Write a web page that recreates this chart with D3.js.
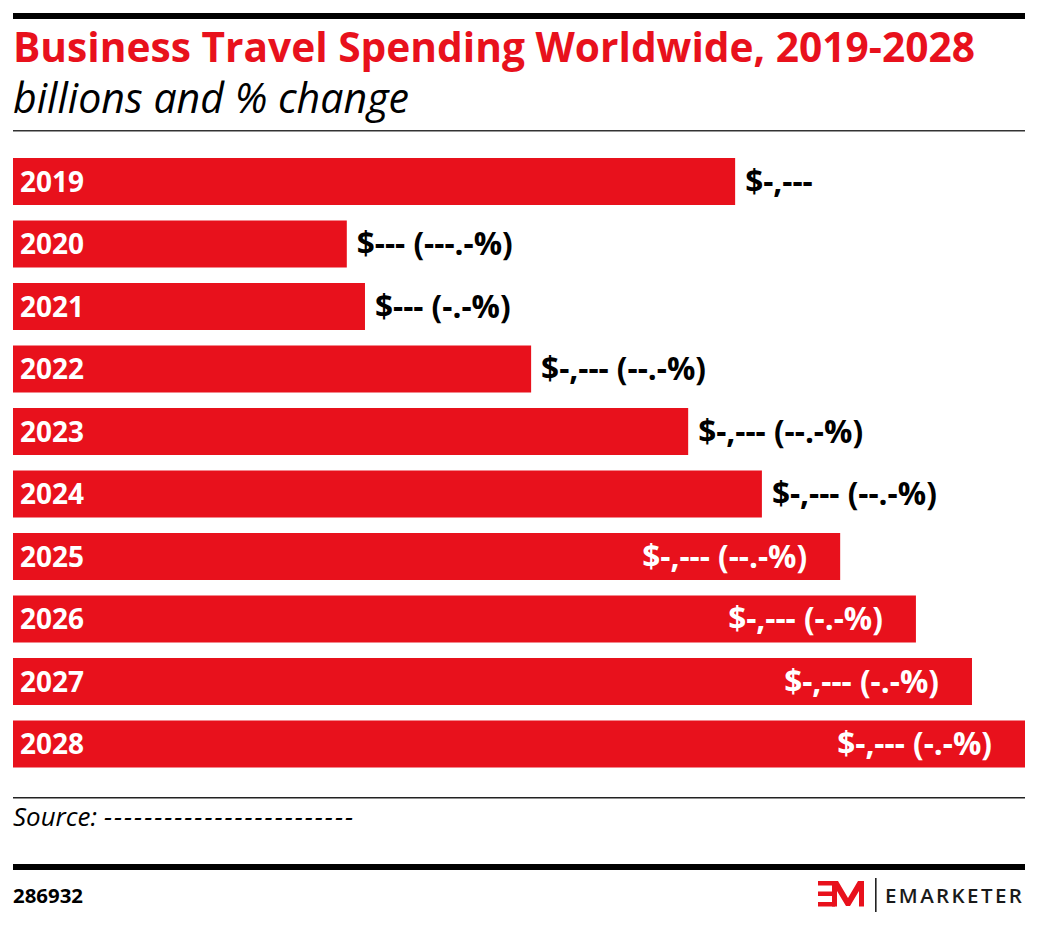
<!DOCTYPE html>
<html><head><meta charset="utf-8">
<script src="https://cdn.jsdelivr.net/npm/d3@7/dist/d3.min.js"></script>
<style>
html,body{margin:0;padding:0;background:#fff;}
svg{display:block;}
text{font-family:"Open Sans",Lato,sans-serif;}
</style></head>
<body><div id="chart"></div>
<script>
const years = ["2019","2020","2021","2022","2023","2024","2025","2026","2027","2028"];
const values = [1430, 661, 697, 1026, 1337, 1483, 1638, 1788, 1899, 2004];
const valueLabels = ["$-,---","$--- (---.-%)","$--- (-.-%)","$-,--- (--.-%)","$-,--- (--.-%)","$-,--- (--.-%)","$-,--- (--.-%)","$-,--- (-.-%)","$-,--- (-.-%)","$-,--- (-.-%)"];
const insideFlags = [false,false,false,false,false,false,true,true,true,true];

const W = 1038, H = 925;
const red = "#e8111c";
const svg = d3.select("#chart").append("svg").attr("width", W).attr("height", H);

function fit(sel, target){
  const w = sel.node().getComputedTextLength();
  const fs = parseFloat(sel.style("font-size"));
  sel.style("font-size", (fs*target/w).toFixed(2)+"px");
  return fs*target/w;
}

svg.append("rect").attr("x",13).attr("y",13).attr("width",1012).attr("height",6).attr("fill","#000");
const title = svg.append("text").attr("x",13).attr("y",61.5).attr("fill",red)
  .style("font-size","36px").style("font-weight","700").text("Business Travel Spending Worldwide, 2019-2028");
fit(title, 962);
const sub = svg.append("text").attr("x",13).attr("y",113).attr("fill","#000")
  .style("font-size","34px").style("font-style","italic").style("font-weight","400").text("billions and % change");
fit(sub, 396);
svg.append("rect").attr("x",13).attr("y",130).attr("width",1012).attr("height",1.5).attr("fill","#333");

const x = d3.scaleLinear().domain([0, d3.max(values)]).range([13, 1025]);
const y = d3.scaleBand().domain(years).range([158, 767.5]).paddingInner(0.248).paddingOuter(0);

const probe = svg.append("text").style("font-size","25px").style("font-weight","700").text(valueLabels[1]);
const labFs = 25*156/probe.node().getComputedTextLength();
probe.remove();
const probe2 = svg.append("text").style("font-size","25px").style("font-weight","700").text("2019");
const yrFs = 25*64/probe2.node().getComputedTextLength();
probe2.remove();

const rows = svg.append("g").selectAll("g.row")
  .data(years.map((yr,i)=>({yr, v:values[i], lab:valueLabels[i], inside:insideFlags[i]})))
  .join("g").attr("class","row");
rows.append("rect").attr("x",x(0)).attr("y",d=>y(d.yr)).attr("width",d=>x(d.v)-x(0)).attr("height",y.bandwidth()).attr("fill",red);
rows.append("text").attr("x",20).attr("y",d=>y(d.yr)+y.bandwidth()/2+yrFs*0.36)
  .attr("fill","#fff").style("font-size",yrFs+"px").style("font-weight","700").text(d=>d.yr);
rows.append("text")
  .attr("x",d=>d.inside ? x(d.v)-33 : x(d.v)+10)
  .attr("text-anchor",d=>d.inside?"end":"start")
  .attr("y",d=>y(d.yr)+y.bandwidth()/2+labFs*0.36)
  .attr("fill",d=>d.inside?"#fff":"#000").style("font-size",labFs+"px").style("font-weight","700").text(d=>d.lab);

svg.append("rect").attr("x",13).attr("y",797).attr("width",1012).attr("height",1.5).attr("fill","#222");
const srcProbe = svg.append("text").style("font-size","20px").style("font-style","italic").text("Source:");
const srcFs = 20*84/srcProbe.node().getComputedTextLength();
srcProbe.remove();
const src = svg.append("text").attr("x",13).attr("y",826).attr("fill","#000").style("font-size",srcFs+"px").style("font-style","italic");
src.append("tspan").text("Source: ");
const dashes = src.append("tspan").attr("x",104).text("-------------------------");
const dw = dashes.node().getComputedTextLength();
dashes.style("letter-spacing", ((251-dw)/25).toFixed(2)+"px");
svg.append("rect").attr("x",13).attr("y",864).attr("width",1012).attr("height",6).attr("fill","#000");
const id = svg.append("text").attr("x",13).attr("y",903).attr("fill","#000").style("font-size","17px").style("font-weight","700").text("286932");
fit(id, 70);

const lg = svg.append("g");
[881,891.5,902].forEach(yy=>lg.append("rect").attr("x",818).attr("y",yy).attr("width",17).attr("height",4.5).attr("fill",red));
lg.append("path").attr("d","M832,906.5 L832,881 L838,881 L848,898 L858,881 L864,881 L864,906.5 L859,906.5 L859,891 L850,906 L846,906 L837,891 L837,906.5 Z").attr("fill",red);
lg.append("rect").attr("x",875).attr("y",878).attr("width",1.6).attr("height",34).attr("fill","#222");
const em = lg.append("text").attr("x",885).attr("y",903).attr("fill","#1a1a1a").style("font-size","20px").style("font-weight","600").style("letter-spacing","2.4px").text("EMARKETER");
fit(em, 140);
</script></body></html>
